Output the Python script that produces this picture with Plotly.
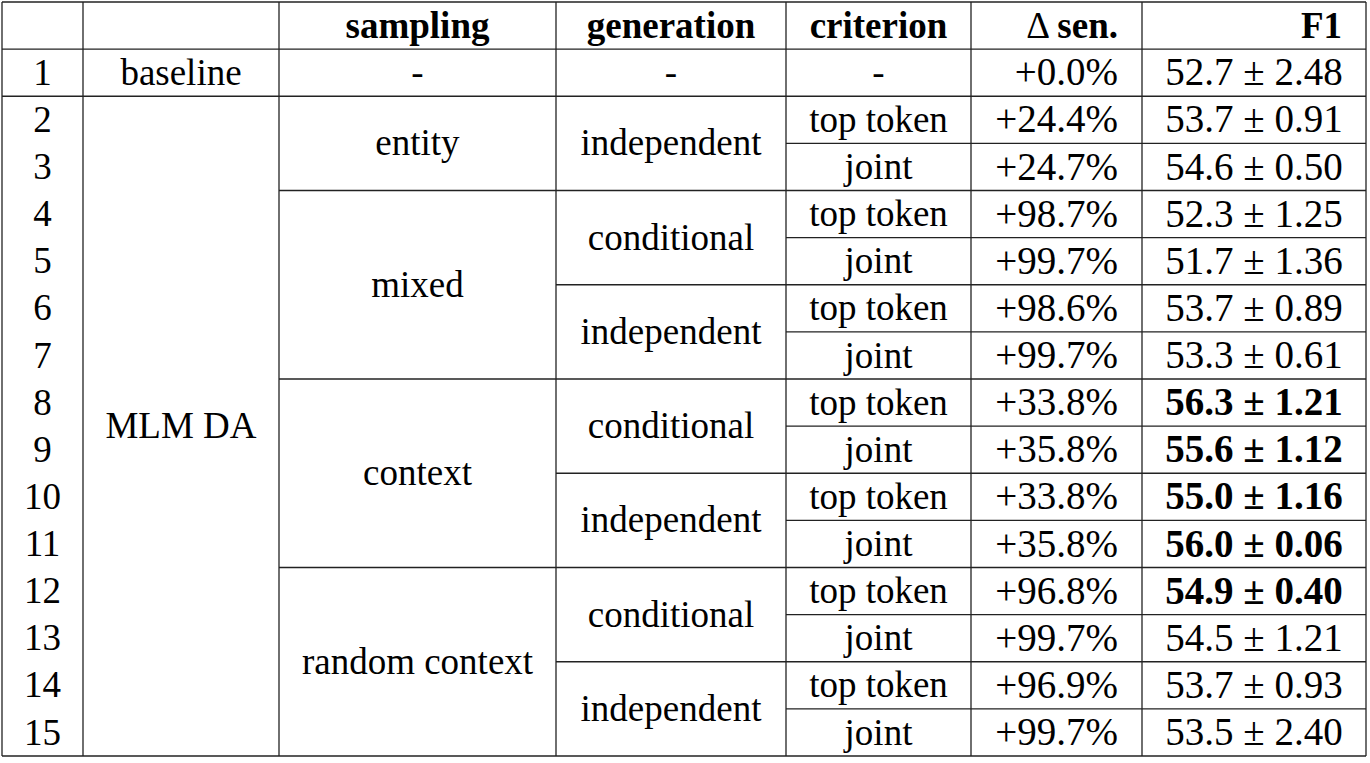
import plotly.graph_objects as go

# table data
row_ids = list(range(1, 16))
method = ["baseline"] + ["MLM DA"] * 14
sampling = ["-"] + ["entity"] * 2 + ["mixed"] * 4 + ["context"] * 4 + ["random context"] * 4
generation = ["-",
              "independent", "independent",
              "conditional", "conditional", "independent", "independent",
              "conditional", "conditional", "independent", "independent",
              "conditional", "conditional", "independent", "independent"]
criterion = ["-"] + ["top token", "joint"] * 7
delta_sen = [0.0, 24.4, 24.7, 98.7, 99.7, 98.6, 99.7, 33.8, 35.8, 33.8, 35.8, 96.8, 99.7, 96.9, 99.7]
f1_mean = [52.7, 53.7, 54.6, 52.3, 51.7, 53.7, 53.3, 56.3, 55.6, 55.0, 56.0, 54.9, 54.5, 53.7, 53.5]
f1_std = [2.48, 0.91, 0.50, 1.25, 1.36, 0.89, 0.61, 1.21, 1.12, 1.16, 0.06, 0.40, 1.21, 0.93, 2.40]
f1_bold = [False] * 7 + [True] * 5 + [False] * 3
headers = ["", "", "<b>sampling</b>", "<b>generation</b>", "<b>criterion</b>", "Δ <b>sen.</b>", "<b>F1</b>"]

# layout (pixels)
W, H = 1370, 763
edges = [2, 83, 279, 556, 786, 971, 1142, 1366]
top_px, bot_px = 2, 756
n_rows = len(row_ids) + 1
row_h = (bot_px - top_px) / n_rows
y_top = -0.5 - top_px / row_h
y_bot = n_rows - 0.5 + (H - bot_px) / row_h
pad = 24
dy = 0.06  # nudge text down a little inside its cell
FONT = "Liberation Serif"
TXT = 37
NUM = 39
LINE = dict(color="#222222", width=1.3)


def runs(keys):
    # consecutive equal keys -> (first, last) index pairs
    out = []
    start = 0
    for i in range(1, len(keys) + 1):
        if i == len(keys) or keys[i] != keys[start]:
            out.append((start, i - 1))
            start = i
    return out


def mid(c):
    return (edges[c] + edges[c + 1]) / 2


fig = go.Figure()


def add_text(xs, ys, texts, pos, size):
    fig.add_trace(go.Scatter(x=xs, y=[y + dy for y in ys], mode="text", text=texts, textposition=pos,
                             textfont=dict(family=FONT, size=size, color="black"),
                             hoverinfo="skip", showlegend=False, cliponaxis=False))


# header
for c, h in enumerate(headers):
    if not h:
        continue
    if c >= 5:
        add_text([edges[c + 1] - pad], [0], [h], "middle left", TXT)
    else:
        add_text([mid(c)], [0], [h], "middle center", TXT)

ys = [i + 1 for i in range(len(row_ids))]
add_text([mid(0)] * len(ys), ys, [str(r) for r in row_ids], "middle center", TXT)

# merged columns
keys_by_col = {
    1: [(m,) for m in method],
    2: [(m, s) for m, s in zip(method, sampling)],
    3: [(m, s, g) for m, s, g in zip(method, sampling, generation)],
    4: [(i,) for i in range(len(row_ids))],
}
labels_by_col = {1: method, 2: sampling, 3: generation, 4: criterion}
for c in (1, 2, 3, 4):
    spans = runs(keys_by_col[c])
    add_text([mid(c)] * len(spans), [(a + b) / 2 + 1 for a, b in spans],
             [labels_by_col[c][a] for a, b in spans], "middle center", TXT)

add_text([edges[6] - pad] * len(ys), ys, [f"+{d:.1f}%" for d in delta_sen], "middle left", NUM)
f1_txt = []
for m, s, b in zip(f1_mean, f1_std, f1_bold):
    t = f"{m:.1f} ± {s:.2f}"
    f1_txt.append(f"<b>{t}</b>" if b else t)
add_text([mid(6)] * len(ys), ys, f1_txt, "middle center", NUM)

# grid lines
shapes = []
for x in edges:
    shapes.append(dict(type="line", x0=x, x1=x, y0=-0.5, y1=n_rows - 0.5, line=LINE))
for y in (-0.5, 0.5, n_rows - 0.5):
    shapes.append(dict(type="line", x0=edges[0], x1=edges[-1], y0=y, y1=y, line=LINE))
col_keys = [keys_by_col[1], keys_by_col[1], keys_by_col[2], keys_by_col[3],
            keys_by_col[4], keys_by_col[4], keys_by_col[4]]
for c, keys in enumerate(col_keys):
    for a, b in runs(keys)[:-1]:
        shapes.append(dict(type="line", x0=edges[c], x1=edges[c + 1],
                           y0=b + 1.5, y1=b + 1.5, line=LINE))

fig.update_layout(
    width=W, height=H,
    margin=dict(l=0, r=0, t=0, b=0),
    plot_bgcolor="white", paper_bgcolor="white",
    shapes=shapes,
    xaxis=dict(range=[0, W], visible=False, fixedrange=True),
    yaxis=dict(range=[y_bot, y_top], visible=False, fixedrange=True),
)

# page body has an 8px default margin; drop it so the figure fills the window
fig.write_html("out.html", config={"displayModeBar": False},
               post_script="document.body.style.margin='0';document.body.style.overflow='hidden';")
